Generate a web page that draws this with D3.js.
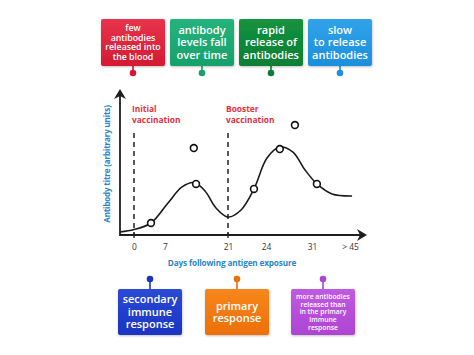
<!DOCTYPE html>
<html><head><meta charset="utf-8">
<script src="https://cdn.jsdelivr.net/npm/d3@7"></script>
<style>
html,body{margin:0;padding:0;background:#fff;}
svg{display:block;font-family:"Open Sans",sans-serif;}
</style></head>
<body>
<svg id="c" width="474" height="355"></svg>
<script>
// ---- data ----
const tickDays   = [0, 7, 21, 24, 31, 45];
const tickLabels = ["0", "7", "21", "24", "31", "> 45"];
const curveDays  = [-3.16, 0, 3.84, 7.67, 10.78, 13.44, 15.89, 18.33, 21, 22.03, 23.05, 24.15, 26.13, 28.1, 29.94, 32.84, 38.37, 45.74];
const curveVals  = [0.21, 0.38, 0.84, 2.24, 3.36, 3.67, 3.08, 1.89, 1.26, 1.75, 3.22, 5.38, 6.15, 5.80, 4.55, 3.57, 2.87, 2.73];
const pointDays  = [3.84, 13.9, 13.4, 23.05, 26.1, 28.4, 32.8];
const pointVals  = [0.84, 3.57, 6.08, 3.22, 6.01, 7.69, 3.57];
const vaccDays   = [0, 21];
const vaccLabels = [["Initial", "vaccination"], ["Booster", "vaccination"]];
const topLabels  = [["few","antibodies","released into","the blood"],["antibody","levels fall","over time"],["rapid","release of","antibodies"],["slow","to release","antibodies"]];
const topColors  = [["#e8344c","#d31a33"],["#25b37c","#17a06a"],["#14923f","#0a7f33"],["#30a3ea","#1d8fdc"]];
const botLabels  = [["secondary","immune","response"],["primary","response"],["more antibodies","released than","in the primary","immune","response"]];
const botColors  = [["#2b49d6","#1a34c2"],["#f6861c","#ec700a"],["#bf5ae2","#ad44d3"]];

const svg = d3.select("#c");
const defs = svg.append("defs");

// ---- scales (axis is not to scale in the original: piecewise) ----
const x = d3.scaleLinear()
  .domain([-3.16, 0, 7, 21, 24, 31, 45, 50])
  .range([120, 134, 165, 228, 266, 312, 350, 364]);
const y = d3.scaleLinear().domain([0, 10]).range([235, 92]);

const axisColor = "#1e1e1e";
// dashed vaccination lines
svg.selectAll("line.vac").data(vaccDays).join("line")
  .attr("x1", d => x(d)).attr("x2", d => x(d))
  .attr("y1", 133).attr("y2", y(0))
  .attr("stroke", "#222").attr("stroke-width", 1.5).attr("stroke-dasharray", "5,4");

// vaccination labels
vaccDays.forEach((d, i) => {
  const t = svg.append("text").attr("x", x(d) - 2).attr("y", 112)
    .attr("fill", "#e2303f").attr("font-size", 8.4).attr("font-weight", 700);
  vaccLabels[i].forEach((s, j) => t.append("tspan").attr("x", x(d) - 2).attr("dy", j ? 10.5 : 0).text(s));
});

// axes
const xAxis = d3.axisBottom(x).tickValues(tickDays).tickFormat((d, i) => tickLabels[i]).tickSize(0).tickPadding(9);
const gx = svg.append("g").attr("transform", `translate(0,${y(0)})`).call(xAxis);
gx.select(".domain").remove();
gx.selectAll("text").attr("font-size", 8.4).attr("fill", "#333").attr("font-family", "Open Sans, sans-serif");

svg.append("line").attr("x1", 120).attr("x2", 362).attr("y1", y(0)).attr("y2", y(0))
  .attr("stroke", axisColor).attr("stroke-width", 1.8);
svg.append("line").attr("x1", 120).attr("x2", 120).attr("y1", y(0) + 1).attr("y2", 95)
  .attr("stroke", axisColor).attr("stroke-width", 1.8);
// arrowheads
svg.append("path").attr("d", "M120,89 L126,99 L120,96 L114,99 Z").attr("fill", axisColor);
svg.append("path").attr("d", `M367,${y(0)} L357,${y(0)-6} L360,${y(0)} L357,${y(0)+6} Z`).attr("fill", axisColor);
// small ticks at 0 and 21
svg.selectAll("line.tk").data(vaccDays).join("line")
  .attr("x1", d => x(d)).attr("x2", d => x(d)).attr("y1", y(0) - 2).attr("y2", y(0) + 3)
  .attr("stroke", axisColor).attr("stroke-width", 1.3);

// axis titles
svg.append("text").attr("x", 232).attr("y", 266).attr("text-anchor", "middle")
  .attr("fill", "#2b86c8").attr("font-size", 8.2).attr("font-weight", 700).attr("letter-spacing", -0.15)
  .text("Days following antigen exposure");
svg.append("text").attr("transform", "translate(110,164) rotate(-90)").attr("text-anchor", "middle")
  .attr("fill", "#2b86c8").attr("font-size", 8).attr("font-weight", 700).attr("letter-spacing", -0.15)
  .text("Antibody titre (arbitrary units)");

// curve
const line = d3.line().x((d, i) => x(curveDays[i])).y((d, i) => y(curveVals[i])).curve(d3.curveCatmullRom.alpha(0.5));
svg.append("path").datum(curveVals).attr("d", line).attr("fill", "none").attr("stroke", "#1a1a1a").attr("stroke-width", 1.6);

// circles
svg.selectAll("circle.pt").data(pointVals).join("circle")
  .attr("cx", (d, i) => x(pointDays[i])).attr("cy", d => y(d)).attr("r", 3.4)
  .attr("fill", "#fff").attr("stroke", "#111").attr("stroke-width", 1.6);

// ---- boxes ----
function gradient(id, c) {
  const g = defs.append("linearGradient").attr("id", id).attr("x1", 0).attr("y1", 0).attr("x2", 0).attr("y2", 1);
  g.append("stop").attr("offset", 0).attr("stop-color", c[0]);
  g.append("stop").attr("offset", 1).attr("stop-color", c[1]);
}
const f = defs.append("filter").attr("id", "sh").attr("x", -0.1).attr("y", -0.1).attr("width", 1.3).attr("height", 1.3);
f.append("feDropShadow").attr("dx", 0.5).attr("dy", 1).attr("stdDeviation", 0.8).attr("flood-opacity", 0.25);

function box(x0, y0, w, h, colors, lines, fs, lh, pinY, id) {
  gradient(id, colors);
  const cx = x0 + w / 2;
  const g = svg.append("g");
  const edge = pinY > y0 ? y0 + h : y0;
  g.append("line").attr("x1", cx).attr("x2", cx).attr("y1", edge).attr("y2", pinY)
    .attr("stroke", colors[1]).attr("stroke-width", 1.6);
  g.append("circle").attr("cx", cx).attr("cy", pinY).attr("r", 3.3).attr("fill", colors[1]);
  g.append("rect").attr("x", x0).attr("y", y0).attr("width", w).attr("height", h).attr("rx", 2)
    .attr("fill", `url(#${id})`).attr("filter", "url(#sh)");
  const n = lines.length;
  const top = y0 + h / 2 - (n - 1) * lh / 2;
  lines.forEach((s, j) => g.append("text").attr("text-anchor", "middle").attr("fill", "#fff")
    .attr("font-size", fs).attr("font-weight", 600)
    .attr("x", cx).attr("y", top + j * lh).attr("dy", "0.35em").text(s));
}

const topX = [101, 170, 239, 308];
topLabels.forEach((l, i) => {
  const small = i === 0;
  box(topX[i], 19, 64, 47, topColors[i], l, small ? 8.8 : 11, small ? 9.8 : 12.5, 73, "tg" + i);
});
const botX = [118, 205, 291];
botLabels.forEach((l, i) => {
  const small = i === 2;
  box(botX[i], 289, 64, 46, botColors[i], l, small ? 6.8 : 11, small ? 7.7 : 12.5, 279, "bg" + i);
});
</script>
</body></html>
